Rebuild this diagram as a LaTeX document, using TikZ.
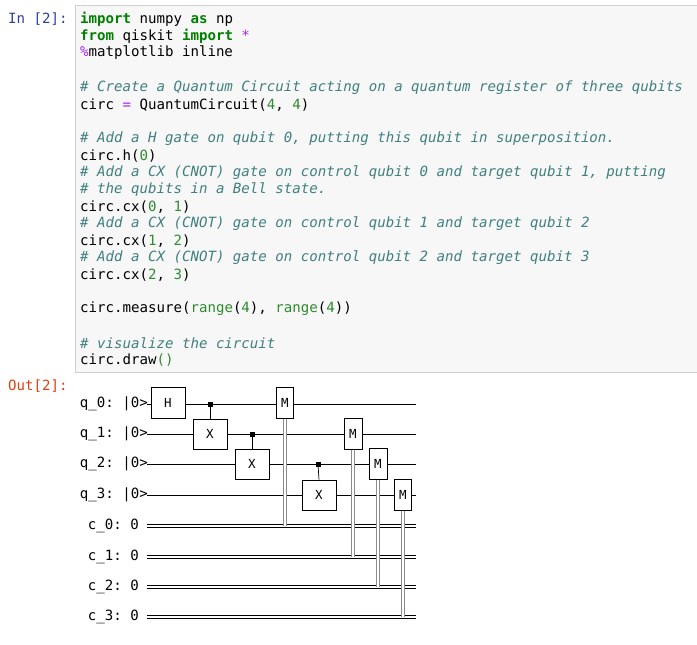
\documentclass[tikz,border=0pt]{standalone}
\usepackage{fontspec}
\setmonofont{DejaVu Sans Mono}
\definecolor{kw}{HTML}{008000}
\definecolor{cm}{HTML}{408080}
\definecolor{op}{HTML}{AA22FF}
\definecolor{nm}{HTML}{2E8B2E}
\definecolor{inc}{HTML}{303F9F}
\definecolor{outc}{HTML}{D84315}
\definecolor{cellbg}{HTML}{F7F7F7}
\definecolor{cellbd}{HTML}{CFCFCF}
\newcommand{\K}[1]{\textcolor{kw}{\bfseries #1}}
\newcommand{\C}[1]{\textcolor{cm}{\itshape #1}}
\newcommand{\N}[1]{\textcolor{nm}{#1}}
\newcommand{\Op}[1]{\textcolor{op}{#1}}
\begin{document}
\begin{tikzpicture}[x=1pt,y=-1pt,
  code/.style={anchor=west,inner sep=0pt,font=\fontsize{14.1}{16}\ttfamily},
  lab/.style={anchor=east,inner sep=0pt,font=\fontsize{14.1}{16}\ttfamily},
  qw/.style={line width=0.7pt},
  cw/.style={double=white,double distance=2pt,line width=0.6pt},
  mw/.style={double=white,double distance=2pt,line width=0.7pt,draw=gray!90},
  gate/.style={draw,fill=white,line width=0.7pt,inner sep=0pt,font=\fontsize{12.5}{14}\ttfamily},
  dot/.style={fill=black,minimum size=5pt,inner sep=0pt}]
\useasboundingbox (0,0) rectangle (697,645);
\fill[white] (0,0) rectangle (697,645);
\draw[cellbd,fill=cellbg] (75.5,5) rectangle (697,372.5);
\node[code,text=inc] (in) at (8,19) {In [2]:};
\node[code,text=outc] (out) at (8,386) {Out[2]:};
\node[code] (l1) at (80,19) {\K{import} numpy \K{as} np};
\node[code] (l2) at (80,36) {\K{from} qiskit \K{import} \Op{*}};
\node[code] (l3) at (80,53) {\Op{\%}matplotlib inline};
\node[code] (l4) at (80,88) {\C{\# Create a Quantum Circuit acting on a quantum register of three qubits}};
\node[code] (l5) at (80,105) {circ \Op{=} QuantumCircuit(\N{4}, \N{4})};
\node[code] (l6) at (80,139) {\C{\# Add a H gate on qubit 0, putting this qubit in superposition.}};
\node[code] (l7) at (80,156) {circ.h(\N{0})};
\node[code] (l8) at (80,173) {\C{\# Add a CX (CNOT) gate on control qubit 0 and target qubit 1, putting}};
\node[code] (l9) at (80,190) {\C{\# the qubits in a Bell state.}};
\node[code] (l10) at (80,207) {circ.cx(\N{0}, \N{1})};
\node[code] (l11) at (80,224) {\C{\# Add a CX (CNOT) gate on control qubit 1 and target qubit 2}};
\node[code] (l12) at (80,241) {circ.cx(\N{1}, \N{2})};
\node[code] (l13) at (80,258) {\C{\# Add a CX (CNOT) gate on control qubit 2 and target qubit 3}};
\node[code] (l14) at (80,275) {circ.cx(\N{2}, \N{3})};
\node[code] (l15) at (80,309) {circ.measure(\N{range}(\N{4}), \N{range}(\N{4}))};
\node[code] (l16) at (80,343) {\C{\# visualize the circuit}};
\node[code] (l17) at (80,360) {circ.draw\N{()}};
% labels
\foreach \i/\y in {0/404,1/434,2/464,3/495}{
  \node[lab] (q\i) at (148,\y) {q\_\i: |0>};
  \coordinate (qs\i) at (147,\y); \coordinate (qe\i) at (416,\y);
  \draw[qw] (qs\i) -- (qe\i);}
\foreach \i/\y in {0/526,1/557,2/587,3/617}{
  \node[lab] (c\i) at (139,\y) {c\_\i: 0};
  \coordinate (cs\i) at (147,\y); \coordinate (ce\i) at (416,\y);
  \draw[cw] (cs\i) -- (ce\i);}
% gates
\node[gate,minimum width=34pt,minimum height=31pt] (H) at (168,403) {H};
\node[gate,minimum width=34pt,minimum height=30pt] (X1) at (210,434) {X};
\node[gate,minimum width=34pt,minimum height=30pt] (X2) at (252,464) {X};
\node[gate,minimum width=34pt,minimum height=30pt] (X3) at (319,495) {X};
\node[dot] (d1) at (210,404) {};
\node[dot] (d2) at (252,434) {};
\node[dot] (d3) at (318,464) {};
\draw[qw] (d1) -- (X1.north);
\draw[qw] (d2) -- (X2.north);
\draw[qw] (d3) -- (X3.north);
\coordinate (m0b) at (285,526); \coordinate (m1b) at (353,557);
\coordinate (m2b) at (378,587); \coordinate (m3b) at (403,617);
\node[gate,minimum width=17pt,minimum height=31pt] (M0) at (285,403) {M};
\node[gate,minimum width=18pt,minimum height=31pt] (M1) at (353,434) {M};
\node[gate,minimum width=18pt,minimum height=31pt] (M2) at (378,464) {M};
\node[gate,minimum width=17pt,minimum height=31pt] (M3) at (403,495) {M};
\draw[mw] (M0.south) -- (m0b);
\draw[mw] (M1.south) -- (m1b);
\draw[mw] (M2.south) -- (m2b);
\draw[mw] (M3.south) -- (m3b);
\end{tikzpicture}
\end{document}
